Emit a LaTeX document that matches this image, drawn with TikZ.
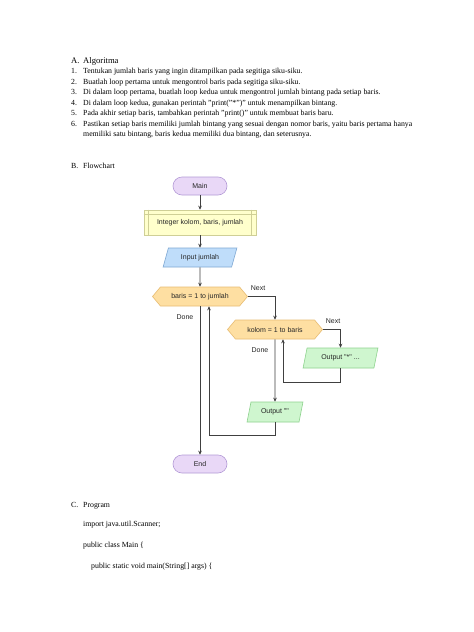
\documentclass[tikz,border=0pt]{standalone}
\usepackage{fontspec}
\setmainfont{Liberation Serif}
\newfontfamily\chartfont{Liberation Sans}
\usetikzlibrary{shapes.geometric,shapes.symbols,arrows.meta}
\definecolor{pillfill}{HTML}{E9D8F7}
\definecolor{pilldraw}{HTML}{B39AD6}
\definecolor{decfill}{HTML}{FFFFCC}
\definecolor{decdraw}{HTML}{CFCF96}
\definecolor{infill}{HTML}{BFDDFA}
\definecolor{indraw}{HTML}{7FA8D3}
\definecolor{hexfill}{HTML}{FEDFA2}
\definecolor{hexdraw}{HTML}{E8BC72}
\definecolor{outfill}{HTML}{CFF6CF}
\definecolor{outdraw}{HTML}{8ED28E}
\definecolor{wire}{HTML}{404040}
\tikzset{
  doc/.style={anchor=base west,inner sep=0pt,font=\fontsize{7.8}{8}\selectfont},
  docnum/.style={anchor=base west,inner sep=0pt,font=\fontsize{7.8}{8}\selectfont},
  chart/.style={font=\chartfont\fontsize{7}{8}\selectfont,text=black!85,inner sep=0pt},
  pill/.style={chart,draw=pilldraw,fill=pillfill,rounded corners=9pt,minimum width=54pt,minimum height=18pt,line width=0.6pt},
  declbox/.style={chart,draw=decdraw,fill=decfill,minimum width=112pt,minimum height=25pt,line width=0.6pt},
  inbox/.style={chart,draw=indraw,fill=infill,trapezium,trapezium left angle=64,trapezium right angle=116,trapezium stretches=true,minimum width=74pt,minimum height=19pt,line width=0.6pt},
  outbox/.style={chart,draw=outdraw,fill=outfill,trapezium,trapezium left angle=70,trapezium right angle=110,trapezium stretches=true,minimum height=20pt,line width=0.6pt},
  hexbox/.style={chart,draw=hexdraw,fill=hexfill,signal,signal to=west and east,signal pointer angle=100,minimum width=95pt,minimum height=19pt,line width=0.6pt},
  arr/.style={draw=wire,line width=0.8pt,-{Stealth[length=4pt,width=3.6pt]}},
  lbl/.style={chart,anchor=center},
}
\begin{document}
\begin{tikzpicture}[x=1pt,y=-1pt]
\useasboundingbox (0,0) rectangle (474,632);
\fill[white] (0,0) rectangle (474,632);
% Section A
\node[docnum,font=\fontsize{8.6}{9}\selectfont] (hA) at (71,63) {A.};
\node[doc,font=\fontsize{8.6}{9}\selectfont] (hAt) at (83,63) {Algoritma};
\node[docnum] (n1) at (71,73.5) {1.};
\node[doc] (t1) at (83,73.5) {Tentukan jumlah baris yang ingin ditampilkan pada segitiga siku-siku.};
\node[docnum] (n2) at (71,84) {2.};
\node[doc] (t2) at (83,84) {Buatlah loop pertama untuk mengontrol baris pada segitiga siku-siku.};
\node[docnum] (n3) at (71,94.5) {3.};
\node[doc] (t3) at (83,94.5) {Di dalam loop pertama, buatlah loop kedua untuk mengontrol jumlah bintang pada setiap baris.};
\node[docnum] (n4) at (71,105) {4.};
\node[doc] (t4) at (83,105) {Di dalam loop kedua, gunakan perintah "print("*")" untuk menampilkan bintang.};
\node[docnum] (n5) at (71,115.5) {5.};
\node[doc] (t5) at (83,115.5) {Pada akhir setiap baris, tambahkan perintah "print()" untuk membuat baris baru.};
\node[docnum] (n6) at (71,126) {6.};
\node[doc] (t6) at (83,126) {Pastikan setiap baris memiliki jumlah bintang yang sesuai dengan nomor baris, yaitu baris pertama hanya};
\node[doc] (t6b) at (83,136.5) {memiliki satu bintang, baris kedua memiliki dua bintang, dan seterusnya.};
% Section B
\node[docnum] (hB) at (71,168.5) {B.};
\node[doc] (hBt) at (83,168.5) {Flowchart};
% Flowchart
\node[pill] (main) at (200,186) {Main};
\node[declbox] (decl) at (200,222.5) {\raisebox{-2.5pt}{Integer kolom, baris, jumlah}};
\draw[decdraw,line width=0.6pt] ([yshift=-5pt]decl.north west) -- ([yshift=-5pt]decl.north east);
\draw[decdraw,line width=0.6pt] ([xshift=5pt]decl.north west) -- ([xshift=5pt]decl.south west);
\draw[decdraw,line width=0.6pt] ([xshift=-5pt]decl.north east) -- ([xshift=-5pt]decl.south east);
\node[inbox] (input) at (200,257.5) {Input jumlah};
\node[hexbox] (baris) at (200,296.5) {baris = 1 to jumlah};
\node[hexbox] (kolom) at (275,329.5) {kolom = 1 to baris};
\node[outbox,minimum width=75pt] (out1) at (340.5,358) {Output "*" ...};
\node[outbox,minimum width=56pt] (out2) at (275,412) {Output ""};
\node[pill] (end) at (200,464) {End};
% labels
\node[lbl] (next1) at (258,288) {Next};
\node[lbl] (next2) at (333,321) {Next};
\node[lbl] (done1) at (185,317) {Done};
\node[lbl] (done2) at (260,350) {Done};
% connectors
\coordinate (back1) at (283,382);
\coordinate (back2) at (209,435);
\draw[arr] (main) -- (decl);
\draw[arr] (decl) -- (input);
\draw[arr] (input) -- (baris);
\draw[arr] (baris.east) -| (kolom.north);
\draw[arr] (kolom.east) -| (out1.north);
\draw[arr] (out1.south) |- (back1) -- (kolom.south -| back1);
\draw[arr] (kolom.south) -- (out2.north);
\draw[arr] (out2.south) |- (back2) -- (baris.south -| back2);
\draw[arr] (baris.south) -- (end.north);
% Section C
\node[docnum] (hC) at (71,507.5) {C.};
\node[doc] (hCt) at (83,507.5) {Program};
\node[doc] (c1) at (83,526.5) {import java.util.Scanner;};
\node[doc] (c2) at (83,547.5) {public class Main \{};
\node[doc] (c3) at (91,568.5) {public static void main(String[] args) \{};
\end{tikzpicture}
\end{document}
